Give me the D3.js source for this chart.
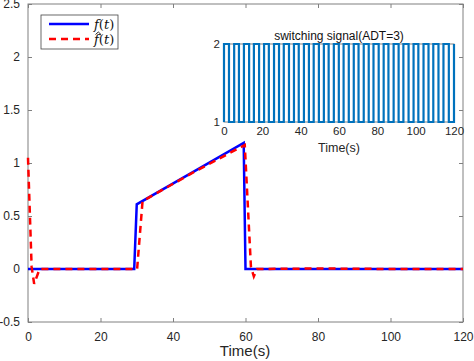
<!DOCTYPE html>
<html>
<head>
<meta charset="utf-8">
<script src="https://cdn.jsdelivr.net/npm/d3@7"></script>
<style>
  body { margin: 0; background: #fff; }
  svg { display: block; font-family: "Liberation Sans", Arial, sans-serif; }
</style>
</head>
<body>
<div id="chart"></div>
<script>
// f(t): true signal
const fT = [0, 29.3, 30, 59.5, 60, 120];
const fV = [0, 0, 0.61, 1.19, 0, 0];
// f-hat(t): estimate
const gT = [0, 1, 1.7, 3.2, 30.1, 31.6, 45, 59.8, 61.5, 62.3, 63.2, 80, 100, 120];
const gV = [1.05, 0.02, -0.14, 0, 0, 0.64, 0.9, 1.17, 0.02, -0.07, 0, 0.005, 0, 0];
// switching instants (signal starts at 2, toggles 2<->1)
const switchT = [2.6, 5.3, 7.8, 10.4, 13.1, 15.6, 18.3, 20.9, 23.4, 26.1, 28.7, 31.2,
  33.9, 36.5, 39.0, 41.7, 44.3, 46.8, 49.5, 52.1, 54.6, 57.3, 59.9, 62.4, 65.1, 67.7,
  70.2, 72.9, 75.5, 78.0, 80.7, 83.3, 85.8, 88.5, 91.1, 93.6, 96.3, 98.9, 101.4,
  104.1, 106.7, 109.2, 111.9, 114.5, 117.3, 120];
const xTicks = [0, 20, 40, 60, 80, 100, 120];
const yTicks = [-0.5, 0, 0.5, 1, 1.5, 2, 2.5];

const W = 474, H = 361;
const svg = d3.select("#chart").append("svg").attr("width", W).attr("height", H);

const x = d3.scaleLinear().domain([0, 120]).range([28, 463]);
const y = d3.scaleLinear().domain([-0.5, 2.5]).range([322, 4]);
const axisCol = "#808080";

// box
svg.append("rect").attr("x", 28).attr("y", 4).attr("width", 435).attr("height", 318)
  .attr("fill", "#fff").attr("stroke", axisCol).attr("stroke-width", 1);

const styleAxis = (g, fs) => {
  g.select(".domain").remove();
  g.selectAll(".tick line").attr("stroke", axisCol);
  g.selectAll(".tick text").attr("fill", "#262626").style("font-size", fs + "px");
};

svg.append("g").attr("transform", "translate(0,322)")
  .call(d3.axisBottom(x).tickValues(xTicks).tickSize(-4).tickPadding(10).tickFormat(d3.format("d")))
  .call(g => styleAxis(g, 12));
svg.append("g").attr("transform", "translate(0,4)")
  .call(d3.axisTop(x).tickValues(xTicks).tickSize(-4).tickFormat(""))
  .call(g => styleAxis(g, 12));
svg.append("g").attr("transform", "translate(28,0)")
  .call(d3.axisLeft(y).tickValues(yTicks).tickSize(-4).tickPadding(8).tickFormat(d => d))
  .call(g => styleAxis(g, 12));
svg.append("g").attr("transform", "translate(463,0)")
  .call(d3.axisRight(y).tickValues(yTicks).tickSize(-4).tickFormat(""))
  .call(g => styleAxis(g, 12));

svg.append("text").attr("x", 245).attr("y", 356).attr("text-anchor", "middle")
  .style("font-size", "15px").attr("fill", "#262626").text("Time(s)");

const line = d3.line().x(d => x(d[0])).y(d => y(d[1]));
svg.append("path").datum(d3.zip(fT, fV)).attr("d", line)
  .attr("fill", "none").attr("stroke", "#0000ff").attr("stroke-width", 2.5);
svg.append("path").datum(d3.zip(gT, gV)).attr("d", line)
  .attr("fill", "none").attr("stroke", "#ff0000").attr("stroke-width", 2.5)
  .attr("stroke-dasharray", "7,5");

// legend
const leg = svg.append("g");
leg.append("rect").attr("x", 41).attr("y", 15).attr("width", 77).attr("height", 34)
  .attr("fill", "#fff").attr("stroke", "#444").attr("stroke-width", 0.8);
leg.append("line").attr("x1", 49).attr("x2", 89).attr("y1", 24).attr("y2", 24)
  .attr("stroke", "#0000ff").attr("stroke-width", 2.5);
leg.append("line").attr("x1", 49).attr("x2", 89).attr("y1", 39).attr("y2", 39)
  .attr("stroke", "#ff0000").attr("stroke-width", 2.5).attr("stroke-dasharray", "7,5");
const serif = "'DejaVu Serif', 'Liberation Serif', serif";
const mathLabel = (yy) => {
  const t = leg.append("text").attr("x", 94).attr("y", yy)
    .style("font-family", serif).style("font-size", "13px").attr("fill", "#111");
  t.append("tspan").style("font-style", "italic").text("f");
  t.append("tspan").text("(");
  t.append("tspan").style("font-style", "italic").text("t");
  t.append("tspan").text(")");
};
mathLabel(28.5);
mathLabel(44);
// hat over the second f
leg.append("path").attr("d", "M95.5,34.5 L98.3,32 L101,34.5")
  .attr("fill", "none").attr("stroke", "#111").attr("stroke-width", 0.9);

// inset
const xi = d3.scaleLinear().domain([0, 120]).range([224, 454]);
const yi = d3.scaleLinear().domain([1, 2]).range([122, 44]);
svg.append("rect").attr("x", 224).attr("y", 44).attr("width", 230).attr("height", 78)
  .attr("fill", "#fff").attr("stroke", axisCol).attr("stroke-width", 1);

const steps = [[0, 1], [0, 2]];
let v = 2;
switchT.forEach(t => { steps.push([t, v]); v = v === 2 ? 1 : 2; steps.push([t, v]); });
svg.append("path").datum(steps)
  .attr("d", d3.line().x(d => xi(d[0])).y(d => yi(d[1])))
  .attr("fill", "none").attr("stroke", "#0072BD").attr("stroke-width", 2.2);

svg.append("g").attr("transform", "translate(0,122)")
  .call(d3.axisBottom(xi).tickValues(xTicks).tickSize(0).tickPadding(5).tickFormat(d3.format("d")))
  .call(g => styleAxis(g, 11.5));
svg.append("g").attr("transform", "translate(224,0)")
  .call(d3.axisLeft(yi).tickValues([1, 2]).tickSize(0).tickPadding(4).tickFormat(d3.format("d")))
  .call(g => styleAxis(g, 11.5));

svg.append("text").attr("x", 339).attr("y", 40).attr("text-anchor", "middle")
  .style("font-size", "12px").attr("fill", "#111").text("switching signal(ADT=3)");
svg.append("text").attr("x", 339).attr("y", 152).attr("text-anchor", "middle")
  .style("font-size", "12.5px").attr("fill", "#262626").text("Time(s)");
</script>
</body>
</html>
